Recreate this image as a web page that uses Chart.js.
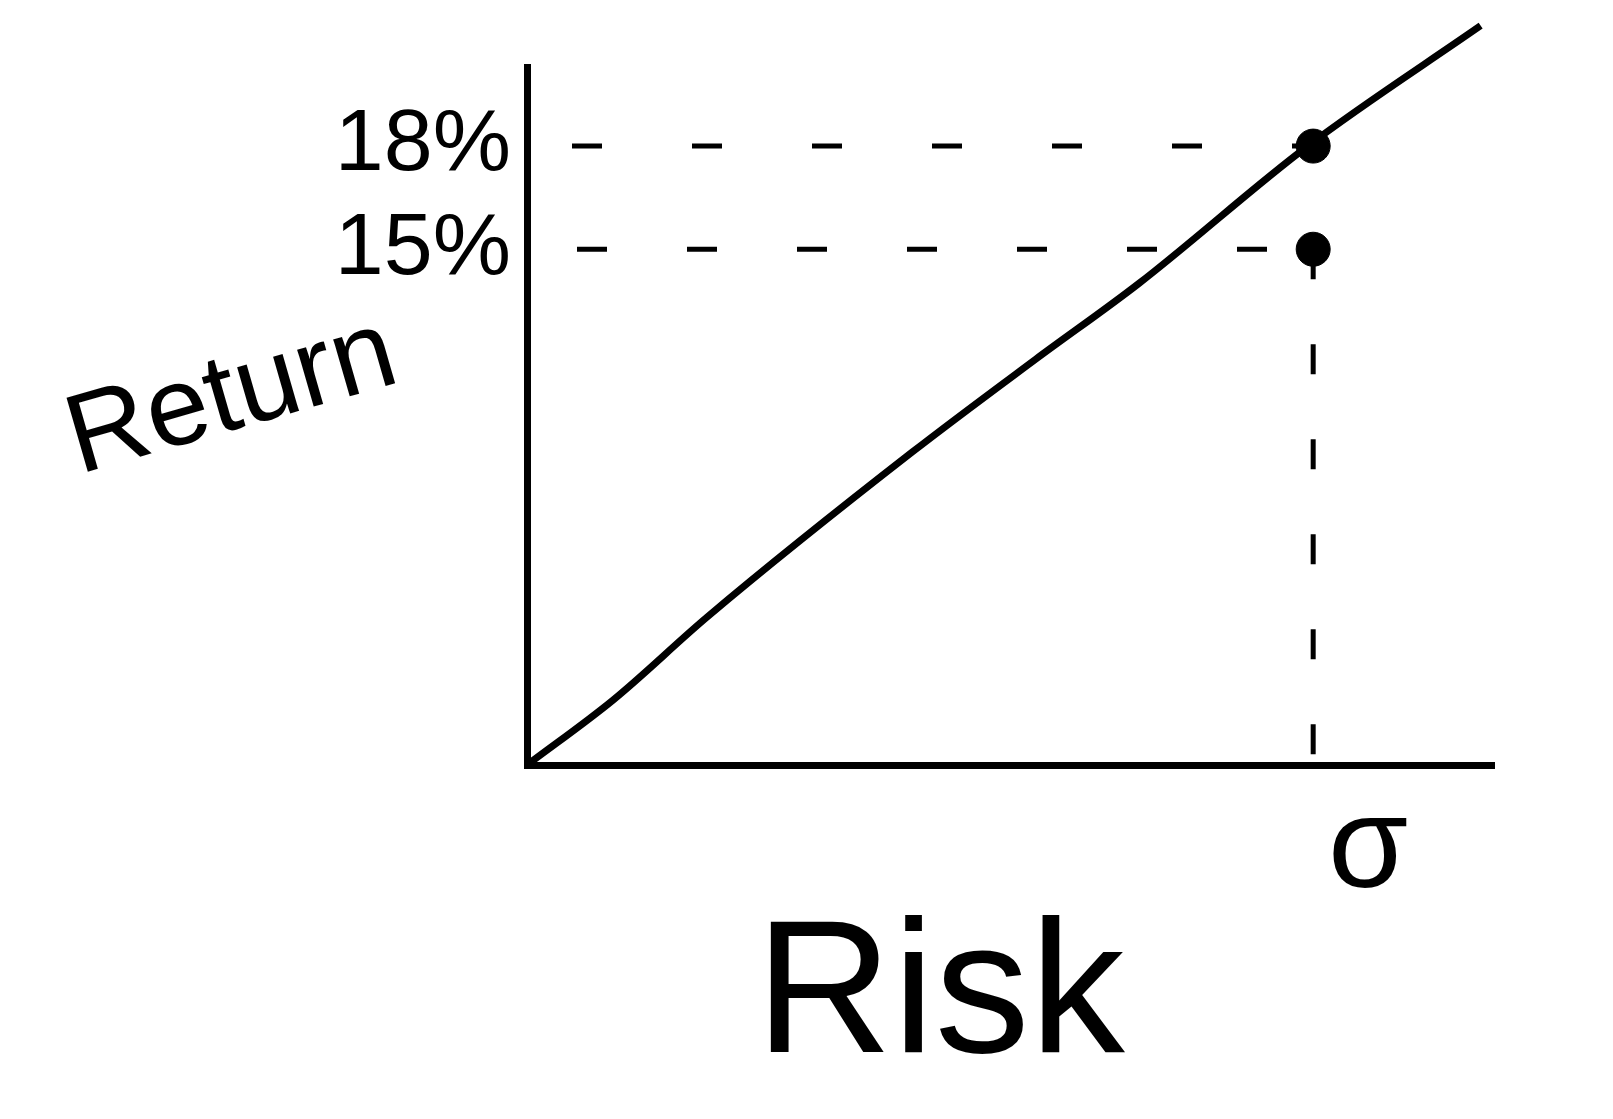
<!DOCTYPE html>
<html>
<head>
  <title>Risk / Return</title>
  <script src="https://cdn.jsdelivr.net/npm/chart.js"></script>
  <style>
    html, body { margin: 0; padding: 0; background: #fff; }
    #wrap { width: 1613px; height: 1119px; }
  </style>
</head>
<body>
  <div id="wrap"><canvas id="chart"></canvas></div>

  <script>
    // line (risk in units of sigma, return in %)
    const lineRisk = [0, 0.11, 0.229, 0.49, 0.647, 0.778, 0.993, 1.213];
    const lineReturn = [0, 1.9, 4.3, 9.1, 11.8, 14.0, 18.0, 21.5];

    // the two marked portfolios
    const pointRisk = [1, 1];
    const pointReturn = [18, 15];

    // tick labels
    const yTicks = [15, 18];
    const yTickLabels = ["15%", "18%"];
    const xTicks = [1];
    const xTickLabels = ["σ"];

    const toXY = (xs, ys) => xs.map((x, i) => ({ x: x, y: ys[i] }));

    const font = "'Liberation Sans', 'DejaVu Sans', sans-serif";

    // axis names placed freely, like the sketch
    const axisNames = {
      id: "axisNames",
      afterDraw(chart) {
        const ctx = chart.ctx;
        ctx.save();
        ctx.fillStyle = "#000";
        ctx.textAlign = "center";
        ctx.textBaseline = "middle";

        ctx.save();
        ctx.translate(232, 398);
        ctx.rotate(-0.28);
        ctx.font = "112px " + font;
        ctx.fillText("Return", 0, 0);
        ctx.restore();

        ctx.font = "190px " + font;
        ctx.fillText("Risk", 940, 1000);
        ctx.restore();
      }
    };

    new Chart(document.getElementById("chart"), {
      type: "scatter",
      data: {
        datasets: [
          {
            data: toXY(lineRisk, lineReturn),
            showLine: true,
            borderColor: "#000",
            borderWidth: 7,
            pointRadius: 0,
            cubicInterpolationMode: "monotone",
            clip: false
          },
          {
            data: toXY([0, pointRisk[0]], [pointReturn[0], pointReturn[0]]),
            showLine: true,
            borderColor: "#000",
            borderWidth: 5,
            borderDash: [30, 90],
            borderDashOffset: -45,
            pointRadius: 0
          },
          {
            data: toXY([0, pointRisk[1]], [pointReturn[1], pointReturn[1]]),
            showLine: true,
            borderColor: "#000",
            borderWidth: 5,
            borderDash: [30, 80],
            borderDashOffset: -160,
            pointRadius: 0
          },
          {
            data: toXY([pointRisk[1], pointRisk[1]], [pointReturn[1], 0]),
            showLine: true,
            borderColor: "#000",
            borderWidth: 5,
            borderDash: [30, 65],
            pointRadius: 0
          },
          {
            data: toXY(pointRisk, pointReturn),
            showLine: false,
            backgroundColor: "#000",
            borderColor: "#000",
            pointRadius: 17,
            clip: false
          }
        ]
      },
      options: {
        responsive: true,
        maintainAspectRatio: false,
        animation: false,
        layout: { padding: { top: 67, right: 119, left: 0, bottom: 0 } },
        plugins: {
          legend: { display: false },
          tooltip: { enabled: false }
        },
        scales: {
          x: {
            type: "linear",
            min: 0,
            max: 1.23,
            grid: { display: false },
            border: { display: true, color: "#000", width: 7 },
            afterBuildTicks: scale => { scale.ticks = xTicks.map(v => ({ value: v })); },
            afterFit: scale => { scale.height = 354; },
            ticks: {
              color: "#000",
              font: { size: 130, family: font },
              padding: 0,
              labelOffset: 55,
              maxRotation: 0,
              callback: value => xTickLabels[xTicks.indexOf(value)]
            }
          },
          y: {
            type: "linear",
            min: 0,
            max: 20.3,
            grid: { display: false },
            border: { display: true, color: "#000", width: 7 },
            afterBuildTicks: scale => { scale.ticks = yTicks.map(v => ({ value: v })); },
            afterFit: scale => { scale.width = 527; },
            ticks: {
              color: "#000",
              font: { size: 88, family: font },
              padding: 8,
              callback: value => yTickLabels[yTicks.indexOf(value)]
            }
          }
        }
      },
      plugins: [axisNames]
    });
  </script>
</body>
</html>
